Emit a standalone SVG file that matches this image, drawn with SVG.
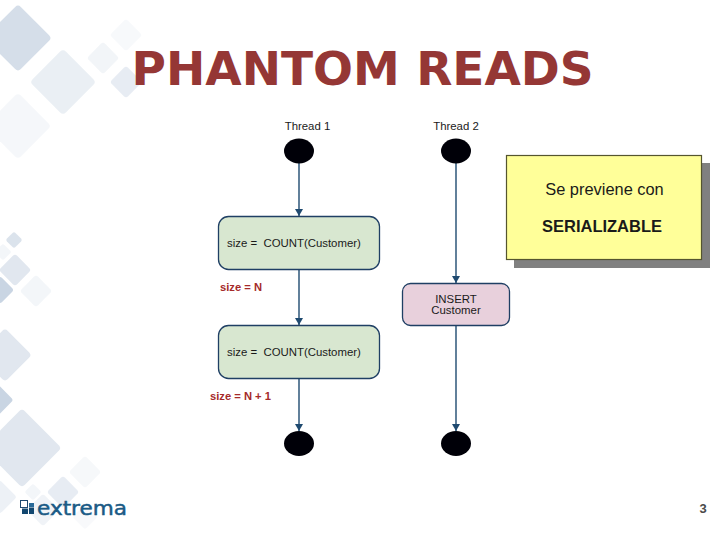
<svg xmlns="http://www.w3.org/2000/svg" width="728" height="546" viewBox="0 0 728 546">
<style>
.sq{fill:#c3d0e0}
.edge{fill:none;stroke:#1f4a70;stroke-width:1.4;marker-end:url(#arr)}
.term{fill:#000008}
.state{fill:#d8e7d0;stroke:#1f3f64;stroke-width:1.3}
.ins{fill:#e8d0dc;stroke:#1f3f64;stroke-width:1.3}
text{font-family:"Liberation Sans",Arial,sans-serif}
.lbl{font-size:11.4px;fill:#1a1a1a}
.red{font-size:11.2px;font-weight:bold;fill:#a52a2a}
.ctr{text-anchor:middle}
</style>
<defs>
<marker id="arr" markerUnits="userSpaceOnUse" markerWidth="9" markerHeight="9" refX="7" refY="4" orient="auto"><path d="M0,0L7,4L0,8z" fill="#1f4a70"/></marker>
</defs>
<rect width="728" height="546" fill="#fff"/>
<g id="background">
<rect class="sq" x="-24" y="-24" width="48" height="48" rx="4" transform="translate(18 38) rotate(45)" style="opacity:.7"/>
<rect class="sq" x="-23.500" y="-23.500" width="47" height="47" rx="4" transform="translate(63 82) rotate(45)" style="opacity:.35"/>
<rect class="sq" x="-23.500" y="-23.500" width="47" height="47" rx="4" transform="translate(18 126) rotate(45)" style="opacity:.16"/>
<rect class="sq" x="-11.500" y="-11.500" width="23" height="23" rx="3" transform="translate(103 58) rotate(45)" style="opacity:.22"/>
<rect class="sq" x="-11.500" y="-11.500" width="23" height="23" rx="3" transform="translate(126 35) rotate(45)" style="opacity:.13"/>
<rect class="sq" x="-11.500" y="-11.500" width="23" height="23" rx="3" transform="translate(126 82) rotate(45)" style="opacity:.4"/>
<rect class="sq" x="-6" y="-6" width="12" height="12" rx="2" transform="translate(14 240) rotate(45)" style="opacity:.6"/>
<rect class="sq" x="-6" y="-6" width="12" height="12" rx="2" transform="translate(3 252) rotate(45)" style="opacity:.2"/>
<rect class="sq" x="-11.500" y="-11.500" width="23" height="23" rx="3" transform="translate(15 270) rotate(45)" style="opacity:.5"/>
<rect class="sq" x="-10" y="-10" width="20" height="20" rx="3" transform="translate(0 290) rotate(45)" style="opacity:.9"/>
<rect class="sq" x="-11.500" y="-11.500" width="23" height="23" rx="3" transform="translate(36 291) rotate(45)" style="opacity:.2"/>
<rect class="sq" x="-19" y="-19" width="38" height="38" rx="4" transform="translate(5 355) rotate(45)" style="opacity:.5"/>
<rect class="sq" x="-11" y="-11" width="22" height="22" rx="3" transform="translate(-2 400) rotate(45)" style="opacity:.9"/>
<rect class="sq" x="-28" y="-28" width="56" height="56" rx="4" transform="translate(22 448) rotate(45)" style="opacity:.5"/>
<rect class="sq" x="-12" y="-12" width="24" height="24" rx="3" transform="translate(0 497) rotate(45)" style="opacity:.3"/>
<rect class="sq" x="-6" y="-6" width="12" height="12" rx="2" transform="translate(33 492) rotate(45)" style="opacity:.2"/>
<rect class="sq" x="-11.500" y="-11.500" width="23" height="23" rx="3" transform="translate(63 492) rotate(45)" style="opacity:.4"/>
<rect class="sq" x="-11.500" y="-11.500" width="23" height="23" rx="3" transform="translate(85 472) rotate(45)" style="opacity:.15"/>
<rect class="sq" x="-11.500" y="-11.500" width="23" height="23" rx="3" transform="translate(43 510) rotate(45)" style="opacity:.25"/>
<rect class="sq" x="-9" y="-9" width="18" height="18" rx="3" transform="translate(85 517) rotate(45)" style="opacity:.12"/>
</g>
<g id="logo">
<rect x="20.500" y="500.500" width="7" height="7" fill="#fff" stroke="#1f4a70" stroke-width="1"/>
<rect x="29" y="503" width="5" height="4" fill="#2a6a98"/>
<rect x="22" y="508.500" width="6" height="5.500" fill="#12476f"/>
<rect x="29" y="507.500" width="5" height="6.500" fill="#12476f"/>
<text x="37" y="514.500" font-size="20" fill="#1a5a85" stroke="#1a5a85" stroke-width=".5" textLength="90" lengthAdjust="spacingAndGlyphs" style="font-family:'DejaVu Sans',sans-serif">extrema</text>
</g>
<text id="title" x="131.500" y="85" font-size="47" font-weight="bold" fill="#953735" style="font-family:'DejaVu Sans',sans-serif">PHANTOM READS</text>
<g id="connectors">
<path class="edge" d="M299 163V216"/>
<path class="edge" d="M299 270V325"/>
<path class="edge" d="M299 379V431"/>
<path class="edge" d="M456 163V283"/>
<path class="edge" d="M456 326V431"/>
</g>
<g id="thread1-start"><text class="lbl ctr" x="307.500" y="130">Thread 1</text><ellipse class="term" cx="299" cy="151" rx="15" ry="12.500"/></g>
<g id="thread2-start"><text class="lbl ctr" x="456" y="130">Thread 2</text><ellipse class="term" cx="456" cy="151" rx="15" ry="12.500"/></g>
<g id="count1"><rect class="state" x="218.500" y="216.500" width="161" height="53" rx="10"/><text class="lbl" x="227" y="247" xml:space="preserve">size =  COUNT(Customer)</text></g>
<text id="size-n" class="red" x="220" y="291">size = N</text>
<g id="insert"><rect class="ins" x="402.500" y="283.500" width="107" height="42" rx="8"/><text class="lbl ctr" x="456" y="303">INSERT</text><text class="lbl ctr" x="456" y="313.500">Customer</text></g>
<g id="count2"><rect class="state" x="218.500" y="325.500" width="161" height="53" rx="10"/><text class="lbl" x="227" y="356" xml:space="preserve">size =  COUNT(Customer)</text></g>
<text id="size-n1" class="red" x="210" y="400">size = N + 1</text>
<g id="thread1-end"><ellipse class="term" cx="299" cy="443.500" rx="15" ry="12.500"/></g>
<g id="thread2-end"><ellipse class="term" cx="456" cy="443.500" rx="15" ry="12.500"/></g>
<g id="note">
<rect x="514" y="163" width="196" height="105" fill="#808080"/>
<rect x="506.500" y="155.500" width="195" height="104" fill="#ffff99" stroke="#55552f" stroke-width="1.200"/>
<text x="604.500" y="195" font-size="16.400" fill="#1a1a1a" class="ctr">Se previene con</text>
<text x="602" y="232" font-size="16.500" font-weight="bold" fill="#1a1a1a" class="ctr">SERIALIZABLE</text>
</g>
<text id="page" x="703" y="513" font-size="13" font-weight="bold" fill="#4a4a4a" class="ctr">3</text>
</svg>
